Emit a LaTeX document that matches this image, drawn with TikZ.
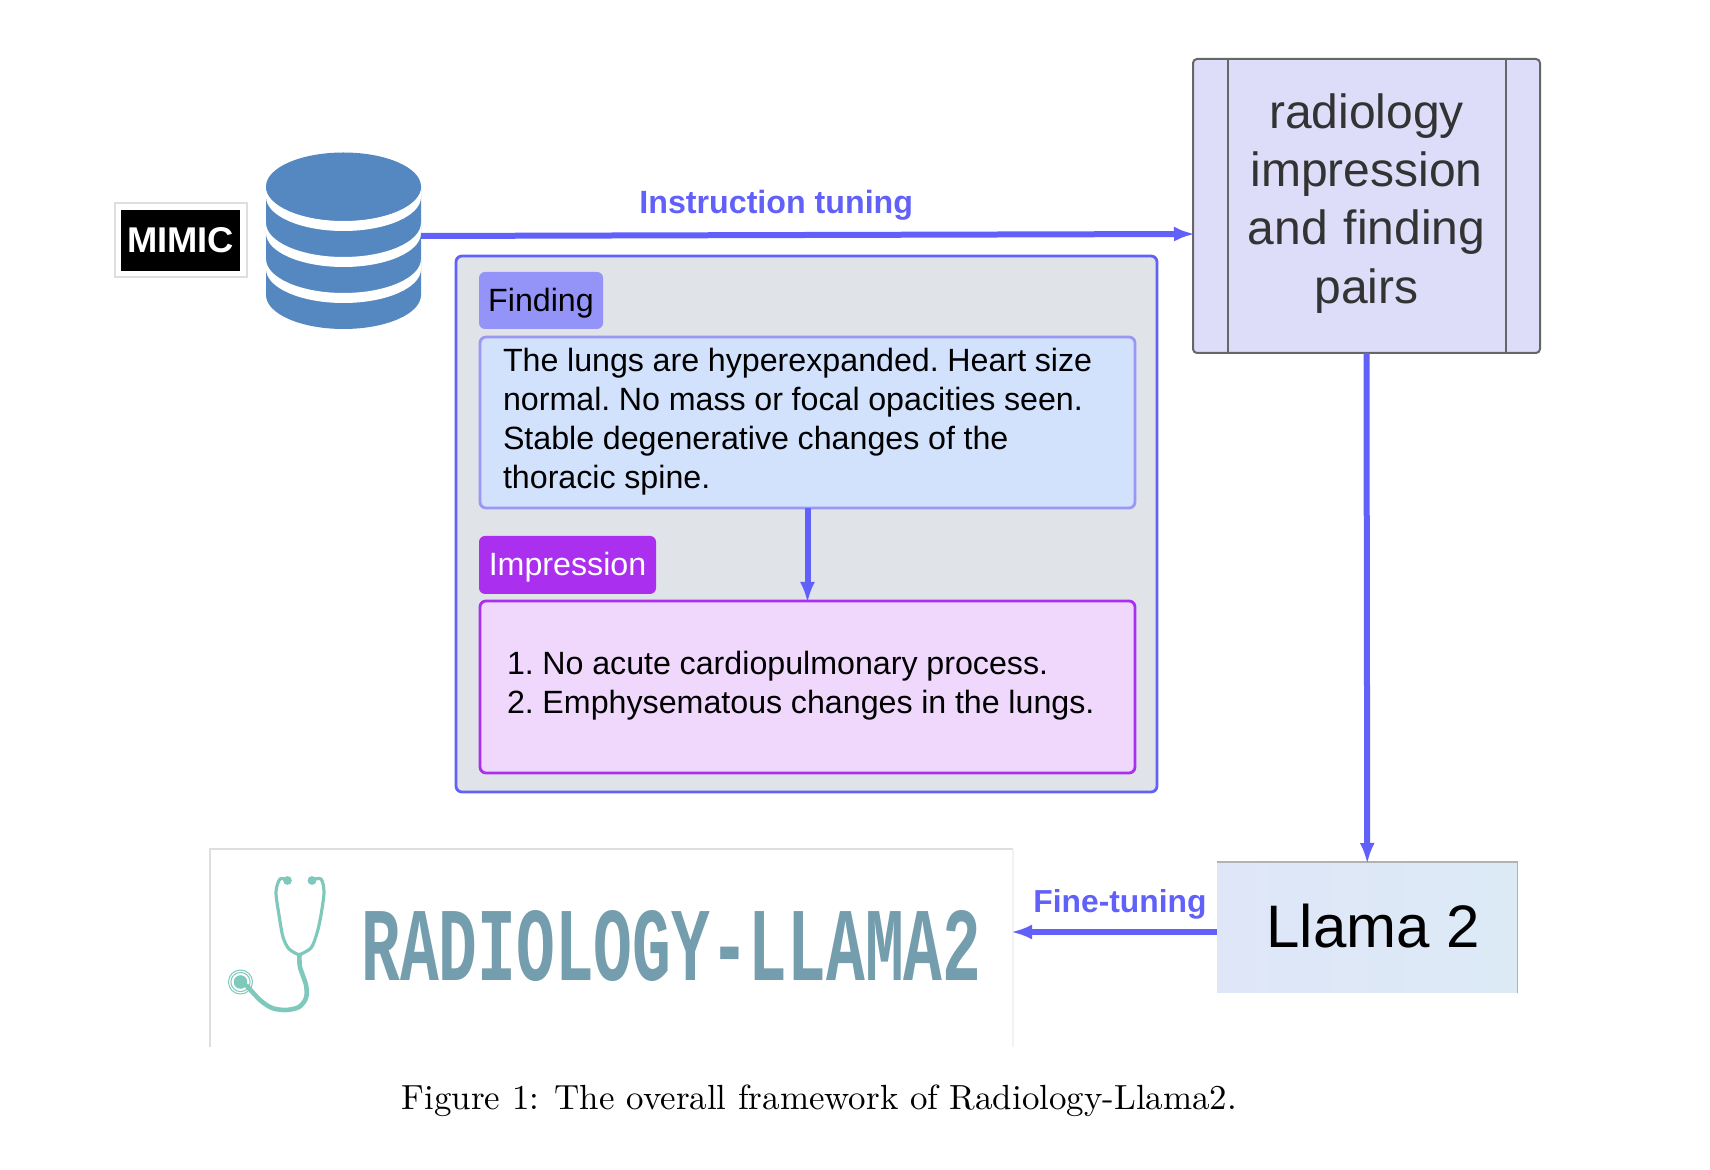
\documentclass[tikz,border=0pt]{standalone}
\usepackage{fontspec}
\usepackage{graphicx}
\usetikzlibrary{arrows.meta,positioning}
\newfontfamily\sansfam{Liberation Sans}
\newfontfamily\monofam{Liberation Mono}
\newcommand{\tightwords}{\spaceskip=4.33pt\relax}
\frenchspacing

\definecolor{flowblue}{HTML}{6161FA}
\definecolor{dbblue}{HTML}{5588C1}
\definecolor{greypanel}{HTML}{E0E3E7}
\definecolor{findtag}{HTML}{9494F8}
\definecolor{findfill}{HTML}{D2E2FC}
\definecolor{findline}{HTML}{9999F5}
\definecolor{imptag}{HTML}{AB2FEE}
\definecolor{impfill}{HTML}{EFD8FC}
\definecolor{pairfill}{HTML}{DDDDFA}
\definecolor{logotext}{HTML}{749DAD}
\definecolor{stethcol}{HTML}{7FC9BC}
\definecolor{llamaleft}{HTML}{DFE6F8}
\definecolor{llamaright}{HTML}{DCEAF6}

\begin{document}
\begin{tikzpicture}[
            x=.5pt,y=-.5pt,
            flow/.style={draw=flowblue,line width=3pt,shorten >=-1pt,-{Latex[length=10.5pt,width=7.5pt]}},
            flowtext/.style={text=flowblue,font=\sansfam\bfseries\fontsize{16.1}{20}\selectfont,inner sep=0pt,anchor=base west},
            panel/.style={anchor=north west,rounded corners=3pt,line width=1.4pt,inner ysep=0pt,outer sep=0pt,align=left,
                font=\sansfam\fontsize{16.1}{19.5}\selectfont},
            tagbox/.style={anchor=north west,rounded corners=3pt,inner sep=0pt,outer sep=0pt,align=center,
                font=\sansfam\fontsize{16.1}{19.5}\selectfont},
            steth/.style={draw=stethcol,line width=1.6pt,line cap=round}
        ]
            \useasboundingbox (0,0) rectangle (1710,1170);

            % database
            \node[minimum width=77.5pt,minimum height=88.5pt,inner sep=0pt,outer sep=0pt] (db) at (343.5,240.5) {};
            \fill[dbblue] (266,186.5) -- (266,295) arc[start angle=180,end angle=360,x radius=38.75pt,y radius=17pt] -- (421,186.5) -- cycle;
            \foreach \c in {187,223,259}
                \fill[white] (266,\c) arc[start angle=180,end angle=360,x radius=38.75pt,y radius=17pt]
                    -- (421,\c+10) arc[start angle=0,end angle=-180,x radius=38.75pt,y radius=17pt] -- cycle;
            \fill[dbblue] (343.5,186.5) ellipse [x radius=38.75pt,y radius=17pt];

            % mimic logo
            \node[draw=black!13,fill=white,line width=.6pt,minimum width=66pt,minimum height=37pt,inner sep=0pt] (mimicframe) at (181,240) {};
            \node[fill=black,text=white,minimum width=59.5pt,minimum height=30.5pt,inner sep=0pt] (mimic) at (180.5,240.5)
                {\resizebox{53.5pt}{12.5pt}{\sansfam\bfseries MIMIC}};

            % pairs box
            \node[draw=black!60,fill=pairfill,text=black!80,rounded corners=2pt,line width=1pt,anchor=north west,
                text width=173.5pt,inner xsep=0pt,inner ysep=0pt,outer sep=0pt,align=center,text height=34.7pt,text depth=112.3pt,
                font=\sansfam\fontsize{24}{29.15}\selectfont] (pairs) at (1193,59)
                {radiology\\impression\\and finding\\pairs};
            \draw[black!60,line width=1pt] ([xshift=17.5pt]pairs.north west) -- ([xshift=17.5pt]pairs.south west);
            \draw[black!60,line width=1pt] ([xshift=-17pt]pairs.north east) -- ([xshift=-17pt]pairs.south east);

            % grey panel
            \node[draw=flowblue,fill=greypanel,rounded corners=3pt,line width=1.4pt,anchor=north west,outer sep=0pt,inner sep=0pt,
                minimum width=350.5pt,minimum height=268pt] (outer) at (456,256) {};

            \node[tagbox,fill=findtag,text=black,minimum width=62pt,text height=19.6pt,text depth=8.9pt] (findtag) at (479,272) {Finding};
            \node[panel,draw=findline,fill=findfill,text=black,text width=304.5pt,inner xsep=11.5pt,text height=17.5pt,text depth=68pt] (find) at (480,337)
                {\tightwords The lungs are hyperexpanded. Heart size\\normal. No mass or focal opacities seen.\\Stable degenerative changes of the\\thoracic spine.};

            \node[tagbox,fill=imptag,text=white,minimum width=88.5pt,text height=19.6pt,text depth=9.4pt] (imptag) at (479,536) {Impression};
            \node[panel,draw=imptag,fill=impfill,text=black,text width=300.5pt,inner xsep=13.5pt,text height=37pt,text depth=49pt] (imp) at (480,601)
                {\tightwords 1. No acute cardiopulmonary process.\\2. Emphysematous changes in the lungs.};

            % llama box
            \node[left color=llamaleft,right color=llamaright,anchor=north west,minimum width=150.25pt,inner xsep=0pt,inner ysep=0pt,outer sep=0pt,align=center,
                text height=43pt,text depth=22.5pt,font=\sansfam\fontsize{30}{30}\selectfont] (llama) at (1217,862) {\kern6pt Llama 2};
            \draw[black!30,line width=.6pt] (llama.north west) -- (llama.north east) -- (llama.south east);

            % radiology-llama2 logo
            \node[minimum width=401.5pt,minimum height=99pt,anchor=north west,inner sep=0pt,outer sep=0pt] (logo) at (210,849) {};
            \draw[black!13,line width=.6pt] (logo.south west) -- (logo.north west) -- (logo.north east);
            \draw[black!5,line width=.6pt] (logo.north east) -- (logo.south east);
            \node[text=logotext,inner sep=0pt,anchor=base west] (logoname) at (361,980)
                {\resizebox{310pt}{35pt}{\monofam\bfseries RADIOLOGY-LLAMA2}};
            \draw[steth] plot[smooth] coordinates {(287,880) (280,879) (276,892) (279,915) (283,937) (289,949) (299,955)};
            \draw[steth] plot[smooth] coordinates {(312,880) (321,879) (324,892) (321,915) (317,933) (311,948) (299,955)};
            \fill[stethcol] (287.5,880.5) circle (2.2pt) (312,880.5) circle (2.2pt);
            \draw[steth,line width=2.3pt] plot[smooth] coordinates {(299.5,955) (300,967) (306,985) (306,998) (299,1007) (286,1010) (272,1008) (260,1000) (247,986)};
            \fill[stethcol] (240.5,982) circle (3.4pt);
            \draw[stethcol,line width=.5pt] (240.5,982) circle (4.8pt) circle (6pt);

            % connectors
            \coordinate (dbout) at (421,236);
            \coordinate (pairsin) at (1193,234);
            \coordinate (fineout) at (1217,932);
            \coordinate (finein) at (1013,932);
            \draw[flow] (dbout) -- (pairsin);
            \draw[flow] (pairs.south) -- (llama.north);
            \draw[flow] (find.south) -- (imp.north);
            \draw[flow] (fineout) -- (finein);

            \node[flowtext] (instr) at (639,214) {Instruction tuning};
            \node[flowtext,font=\sansfam\bfseries\fontsize{15.9}{20}\selectfont] (fine) at (1033,913) {Fine-tuning};

            % caption
            \node[inner sep=0pt,anchor=base west] (caption) at (401.5,1109)
                {\resizebox{417.5pt}{!}{\rmfamily\nonfrenchspacing\fontsize{10}{12}\selectfont Figure 1: The overall framework of Radiology-Llama2.}};
        \end{tikzpicture}
\end{document}
